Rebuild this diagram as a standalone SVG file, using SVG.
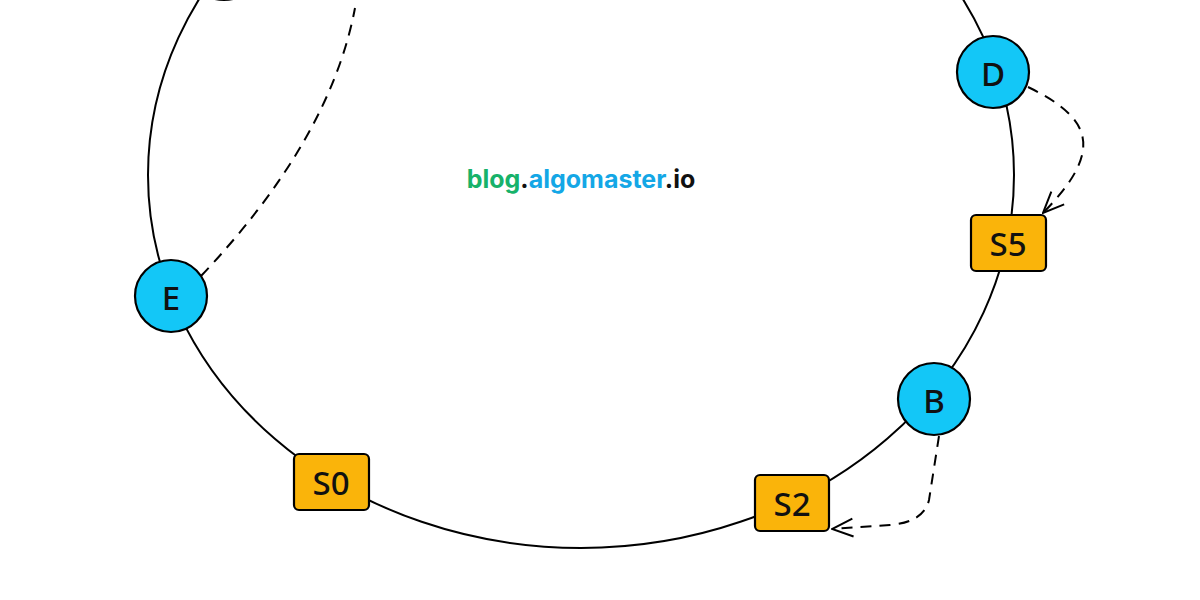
<svg xmlns="http://www.w3.org/2000/svg" width="1200" height="600" viewBox="0 0 1200 600">
<style>
.ring{fill:none;stroke:#000;stroke-width:2}
.node circle{fill:#13c7f7;stroke:#000;stroke-width:2.2}
.node rect{fill:#fab40a;stroke:#000;stroke-width:2.2}
.lbl{font-family:"Noto Sans","DejaVu Sans",sans-serif;font-size:33px;font-weight:500;fill:#111;text-anchor:middle;dominant-baseline:central}
.dash{fill:none;stroke:#000;stroke-width:2;stroke-dasharray:11 8}
.brand{font-family:Inter,"Liberation Sans",sans-serif;font-size:25px;font-weight:700;text-anchor:middle}
</style>
<defs>
<marker id="open" viewBox="0 0 24 24" refX="23" refY="12" markerWidth="24" markerHeight="24" markerUnits="userSpaceOnUse" orient="auto">
<path d="M2,3 L23,12 L2,21" fill="none" stroke="#000" stroke-width="2"/>
</marker>
</defs>
<rect width="1200" height="600" fill="#fff"/>
<ellipse class="ring" cx="581" cy="175" rx="433" ry="373"/>
<g id="connectors">
<path class="dash" d="M201,276 Q330,140 355,8"/>
<path class="dash" d="M1028,87 C1092,118 1105,150 1043,213" marker-end="url(#open)"/>
<path class="dash" d="M939,436 L929,500 Q924,522 890,525 L832,529" marker-end="url(#open)"/>
</g>
<g id="node-top" class="node"><circle cx="224" cy="-36" r="36"/></g>
<g id="node-D" class="node"><circle cx="993" cy="72" r="36"/><text class="lbl" x="993" y="73">D</text></g>
<g id="node-S5" class="node"><rect x="971" y="215" width="75" height="56" rx="5"/><text class="lbl" x="1008" y="243">S5</text></g>
<g id="node-B" class="node"><circle cx="934" cy="399" r="36"/><text class="lbl" x="934" y="400">B</text></g>
<g id="node-S2" class="node"><rect x="755" y="475" width="74" height="56" rx="5"/><text class="lbl" x="792" y="503">S2</text></g>
<g id="node-S0" class="node"><rect x="294" y="454" width="75" height="56" rx="5"/><text class="lbl" x="331" y="482">S0</text></g>
<g id="node-E" class="node"><circle cx="171" cy="296" r="36"/><text class="lbl" x="171" y="297">E</text></g>
<text class="brand" x="581" y="188"><tspan fill="#17b26a">blog</tspan><tspan fill="#111">.</tspan><tspan fill="#14a7e6">algomaster</tspan><tspan fill="#111">.io</tspan></text>
</svg>
